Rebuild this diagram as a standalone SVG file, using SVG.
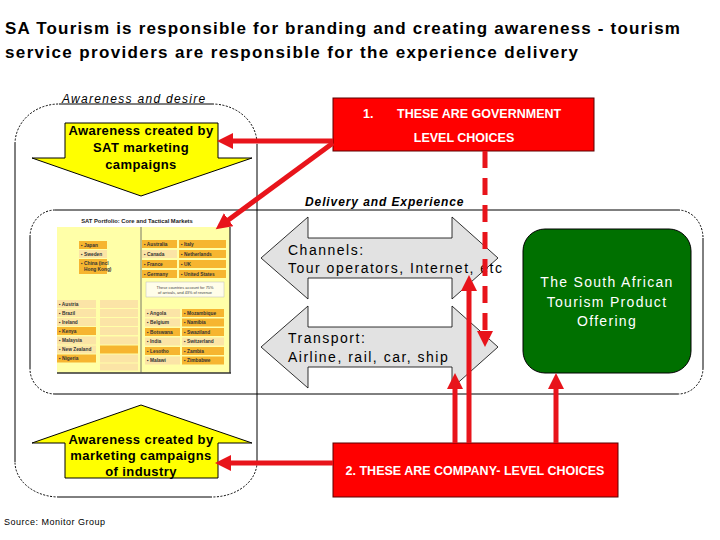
<svg xmlns="http://www.w3.org/2000/svg" width="720" height="540" viewBox="0 0 720 540">
<defs>
<style>
.t{font-family:"Liberation Sans",Arial,sans-serif;}
.title{font-size:17px;font-weight:bold;fill:#000;}
.frame{fill:none;stroke:#000;stroke-width:1;}
.corner{fill:none;stroke:#000;stroke-width:1;stroke-dasharray:2 1.5;}
.ylw{fill:#FFFF00;stroke:#000;stroke-width:1;}
.ytx{font-size:13px;font-weight:bold;letter-spacing:0.4px;fill:#000;text-anchor:middle;}
.redbox{fill:#FF0000;stroke:#5a0000;stroke-width:1;}
.rtx{font-size:12.5px;font-weight:bold;fill:#fff;}
.grey{fill:#E2E2E2;stroke:#000;stroke-width:0.8;}
.gtx{font-size:14px;letter-spacing:1.5px;fill:#000;}
.green{fill:#007000;stroke:#000;stroke-width:1;}
.wtx{font-size:14px;letter-spacing:1.3px;fill:#fff;text-anchor:middle;}
.sec{font-size:12px;font-style:italic;fill:#000;}
.rl{stroke:#E8141B;stroke-width:5;fill:none;}
.rd{stroke:#E8141B;stroke-width:5;fill:none;stroke-dasharray:17 10;}
.o{fill:#F6B530;}
.p{fill:#FBE4A6;}
.it{font-size:4.8px;font-weight:bold;fill:#333;}
</style>
<marker id="ah" markerUnits="userSpaceOnUse" markerWidth="18" markerHeight="18" refX="2" refY="8" orient="auto">
<path d="M0,0 L16,8 L0,16 z" fill="#E8141B"/>
</marker>
</defs>
<rect width="720" height="540" fill="#fff"/>

<g id="title" class="t title">
<text x="5" y="34" textLength="675" lengthAdjust="spacing">SA Tourism is responsible for branding and creating awareness - tourism</text>
<text x="5" y="58" textLength="573" lengthAdjust="spacing">service providers are responsible for the experience delivery</text>
</g>

<g id="awareness-frame">
<path class="frame" d="M59,104 H212 M257,144 V462 M212,497 H59 M15,462 V144"/>
<path class="corner" d="M212,104 A45,40 0 0 1 257,144 M257,462 A45,35 0 0 1 212,497 M59,497 A44,35 0 0 1 15,462 M15,144 A44,40 0 0 1 59,104"/>
<text class="t sec" x="62" y="103" letter-spacing="1.3">Awareness and desire</text>
</g>

<g id="delivery-frame">
<path class="frame" d="M55,210 H678 M703,238 V368 M678,394 H55 M30,369 V237"/>
<path class="corner" d="M678,210 A25,28 0 0 1 703,238 M703,368 A25,26 0 0 1 678,394 M55,394 A25,25 0 0 1 30,369 M30,237 A25,27 0 0 1 55,210"/>
<text class="t sec" x="305" y="206" font-weight="bold" letter-spacing="0.9">Delivery and Experience</text>
</g>

<g id="sat-arrow">
<polygon class="ylw" points="65,123 218,123 218,158 252,158 141,196 32,158 65,158"/>
<text class="t ytx" x="141" y="135">Awareness created by</text>
<text class="t ytx" x="141" y="152">SAT marketing</text>
<text class="t ytx" x="141" y="169">campaigns</text>
</g>

<g id="industry-arrow">
<polygon class="ylw" points="141,405 252,443 218,443 218,478 65,478 65,443 32,443"/>
<text class="t ytx" x="141" y="444">Awareness created by</text>
<text class="t ytx" x="141" y="460">marketing campaigns</text>
<text class="t ytx" x="141" y="476">of industry</text>
</g>

<g id="portfolio-table" class="t">
<text x="137" y="223" font-size="5.8" font-weight="bold" fill="#222" text-anchor="middle">SAT Portfolio: Core and Tactical Markets</text>
<rect x="57" y="227" width="173" height="146" fill="#FFFFA8"/>
<line x1="230" y1="227" x2="230" y2="373" stroke="#333" stroke-width="1.3"/>
<line x1="57" y1="373" x2="231" y2="373" stroke="#333" stroke-width="1.3"/>
<line x1="141" y1="227" x2="141" y2="373" stroke="#555" stroke-width="0.8"/>
<rect class="o" x="79" y="241" width="28" height="8"/><text class="it" x="81" y="246.8">▪ Japan</text>
<rect class="p" x="79" y="250" width="28" height="8"/><text class="it" x="81" y="255.8">▪ Sweden</text>
<rect class="o" x="79" y="259" width="28" height="15"/><text class="it" x="81" y="264.8">▪ China (incl</text><text class="it" x="84" y="271">Hong Kong)</text>
<rect class="o" x="142" y="240" width="35" height="8"/><text class="it" x="144" y="245.8">▪ Australia</text>
<rect class="o" x="179" y="240" width="47" height="8"/><text class="it" x="181" y="245.8">▪ Italy</text>
<rect class="p" x="142" y="250" width="35" height="8"/><text class="it" x="144" y="255.8">▪ Canada</text>
<rect class="o" x="179" y="250" width="47" height="8"/><text class="it" x="181" y="255.8">▪ Netherlands</text>
<rect class="o" x="142" y="260" width="35" height="8"/><text class="it" x="144" y="265.8">▪ France</text>
<rect class="o" x="179" y="260" width="47" height="8"/><text class="it" x="181" y="265.8">▪ UK</text>
<rect class="o" x="142" y="270" width="35" height="8"/><text class="it" x="144" y="275.8">▪ Germany</text>
<rect class="o" x="179" y="270" width="47" height="8"/><text class="it" x="181" y="275.8">▪ United States</text>
<rect x="146" y="282" width="78" height="15" fill="#FFFDEA" stroke="#bbb" stroke-width="0.5"/>
<text x="185" y="288.5" font-size="3.9" fill="#444" text-anchor="middle">These countries account for 75%</text>
<text x="185" y="294" font-size="3.9" fill="#444" text-anchor="middle">of arrivals, and 43% of revenue</text>
<rect class="p" x="57" y="300" width="39" height="8"/><text class="it" x="59" y="305.8">▪ Austria</text>
<rect class="p" x="57" y="309" width="39" height="8"/><text class="it" x="59" y="314.8">▪ Brazil</text>
<rect class="p" x="57" y="318" width="39" height="8"/><text class="it" x="59" y="323.8">▪ Ireland</text>
<rect class="o" x="57" y="327" width="39" height="8"/><text class="it" x="59" y="332.8">▪ Kenya</text>
<rect class="p" x="57" y="336.5" width="39" height="8"/><text class="it" x="59" y="342.3">▪ Malaysia</text>
<rect class="p" x="57" y="345.5" width="39" height="8"/><text class="it" x="59" y="351.3">▪ New Zealand</text>
<rect class="o" x="57" y="354.5" width="39" height="8"/><text class="it" x="59" y="360.3">▪ Nigeria</text>
<rect class="p" x="100" y="300" width="38" height="8"/>
<rect class="p" x="100" y="309" width="38" height="8"/>
<rect class="p" x="100" y="318" width="38" height="8"/>
<rect class="p" x="100" y="327" width="38" height="8"/>
<rect class="p" x="100" y="336.5" width="38" height="8"/>
<rect class="o" x="100" y="345.5" width="38" height="8"/>
<rect class="p" x="100" y="354.5" width="38" height="8"/>
<rect class="p" x="100" y="363.5" width="38" height="7"/>
<rect class="p" x="145" y="309" width="35" height="8"/><text class="it" x="147" y="314.8">▪ Angola</text>
<rect class="o" x="182" y="309" width="42" height="8"/><text class="it" x="184" y="314.8">▪ Mozambique</text>
<rect class="p" x="145" y="318.5" width="35" height="8"/><text class="it" x="147" y="324.3">▪ Belgium</text>
<rect class="o" x="182" y="318.5" width="42" height="8"/><text class="it" x="184" y="324.3">▪ Namibia</text>
<rect class="o" x="145" y="328" width="35" height="8"/><text class="it" x="147" y="333.8">▪ Botswana</text>
<rect class="o" x="182" y="328" width="42" height="8"/><text class="it" x="184" y="333.8">▪ Swaziland</text>
<rect class="p" x="145" y="337.5" width="35" height="8"/><text class="it" x="147" y="343.3">▪ India</text>
<rect class="p" x="182" y="337.5" width="42" height="8"/><text class="it" x="184" y="343.3">▪ Switzerland</text>
<rect class="o" x="145" y="347" width="35" height="8"/><text class="it" x="147" y="352.8">▪ Lesotho</text>
<rect class="o" x="182" y="347" width="42" height="8"/><text class="it" x="184" y="352.8">▪ Zambia</text>
<rect class="p" x="145" y="356.5" width="35" height="8"/><text class="it" x="147" y="362.3">▪ Malawi</text>
<rect class="o" x="182" y="356.5" width="42" height="8"/><text class="it" x="184" y="362.3">▪ Zimbabwe</text>
</g>

<g id="channels">
<polygon class="grey" points="261,258 308,217 308,238 452,238 452,217 498,258 452,299 452,278 308,278 308,299"/>
<text class="t gtx" x="288" y="255">Channels:</text>
<text class="t gtx" x="288" y="273">Tour operators, Internet, etc</text>
</g>

<g id="transport">
<polygon class="grey" points="261,347 308,306 308,327 452,327 452,306 498,347 452,388 452,367 308,367 308,388"/>
<text class="t gtx" x="288" y="343">Transport:</text>
<text class="t gtx" x="288" y="362">Airline, rail, car, ship</text>
</g>

<g id="product">
<rect class="green" x="523" y="229" width="168" height="144" rx="22" ry="22"/>
<text class="t wtx" x="607" y="287">The South African</text>
<text class="t wtx" x="607" y="307">Tourism Product</text>
<text class="t wtx" x="607" y="326">Offering</text>
</g>

<g id="government">
<rect class="redbox" x="333" y="98" width="261" height="53"/>
<text class="t rtx" x="363" y="118">1.</text>
<text class="t rtx" x="397" y="118">THESE ARE GOVERNMENT</text>
<text class="t rtx" x="464" y="142" text-anchor="middle">LEVEL CHOICES</text>
</g>

<g id="company">
<rect class="redbox" x="333" y="443" width="285" height="54"/>
<text class="t rtx" x="475" y="475" text-anchor="middle">2. THESE ARE COMPANY- LEVEL CHOICES</text>
</g>

<g id="connectors">
<line class="rl" x1="333" y1="141" x2="231" y2="141" marker-end="url(#ah)"/>
<line class="rl" x1="333" y1="143" x2="227" y2="221" marker-end="url(#ah)"/>
<line class="rd" x1="485" y1="151" x2="485" y2="333" marker-end="url(#ah)"/>
<line class="rl" x1="333" y1="463" x2="229" y2="463" marker-end="url(#ah)"/>
<line class="rl" x1="455" y1="443" x2="455" y2="387" marker-end="url(#ah)"/>
<line class="rl" x1="469" y1="443" x2="469" y2="289" marker-end="url(#ah)"/>
<line class="rl" x1="556" y1="443" x2="556" y2="387" marker-end="url(#ah)"/>
</g>

<g id="source">
<text class="t" x="4" y="525" font-size="9" letter-spacing="0.5" fill="#000">Source:  Monitor Group</text>
</g>
</svg>
